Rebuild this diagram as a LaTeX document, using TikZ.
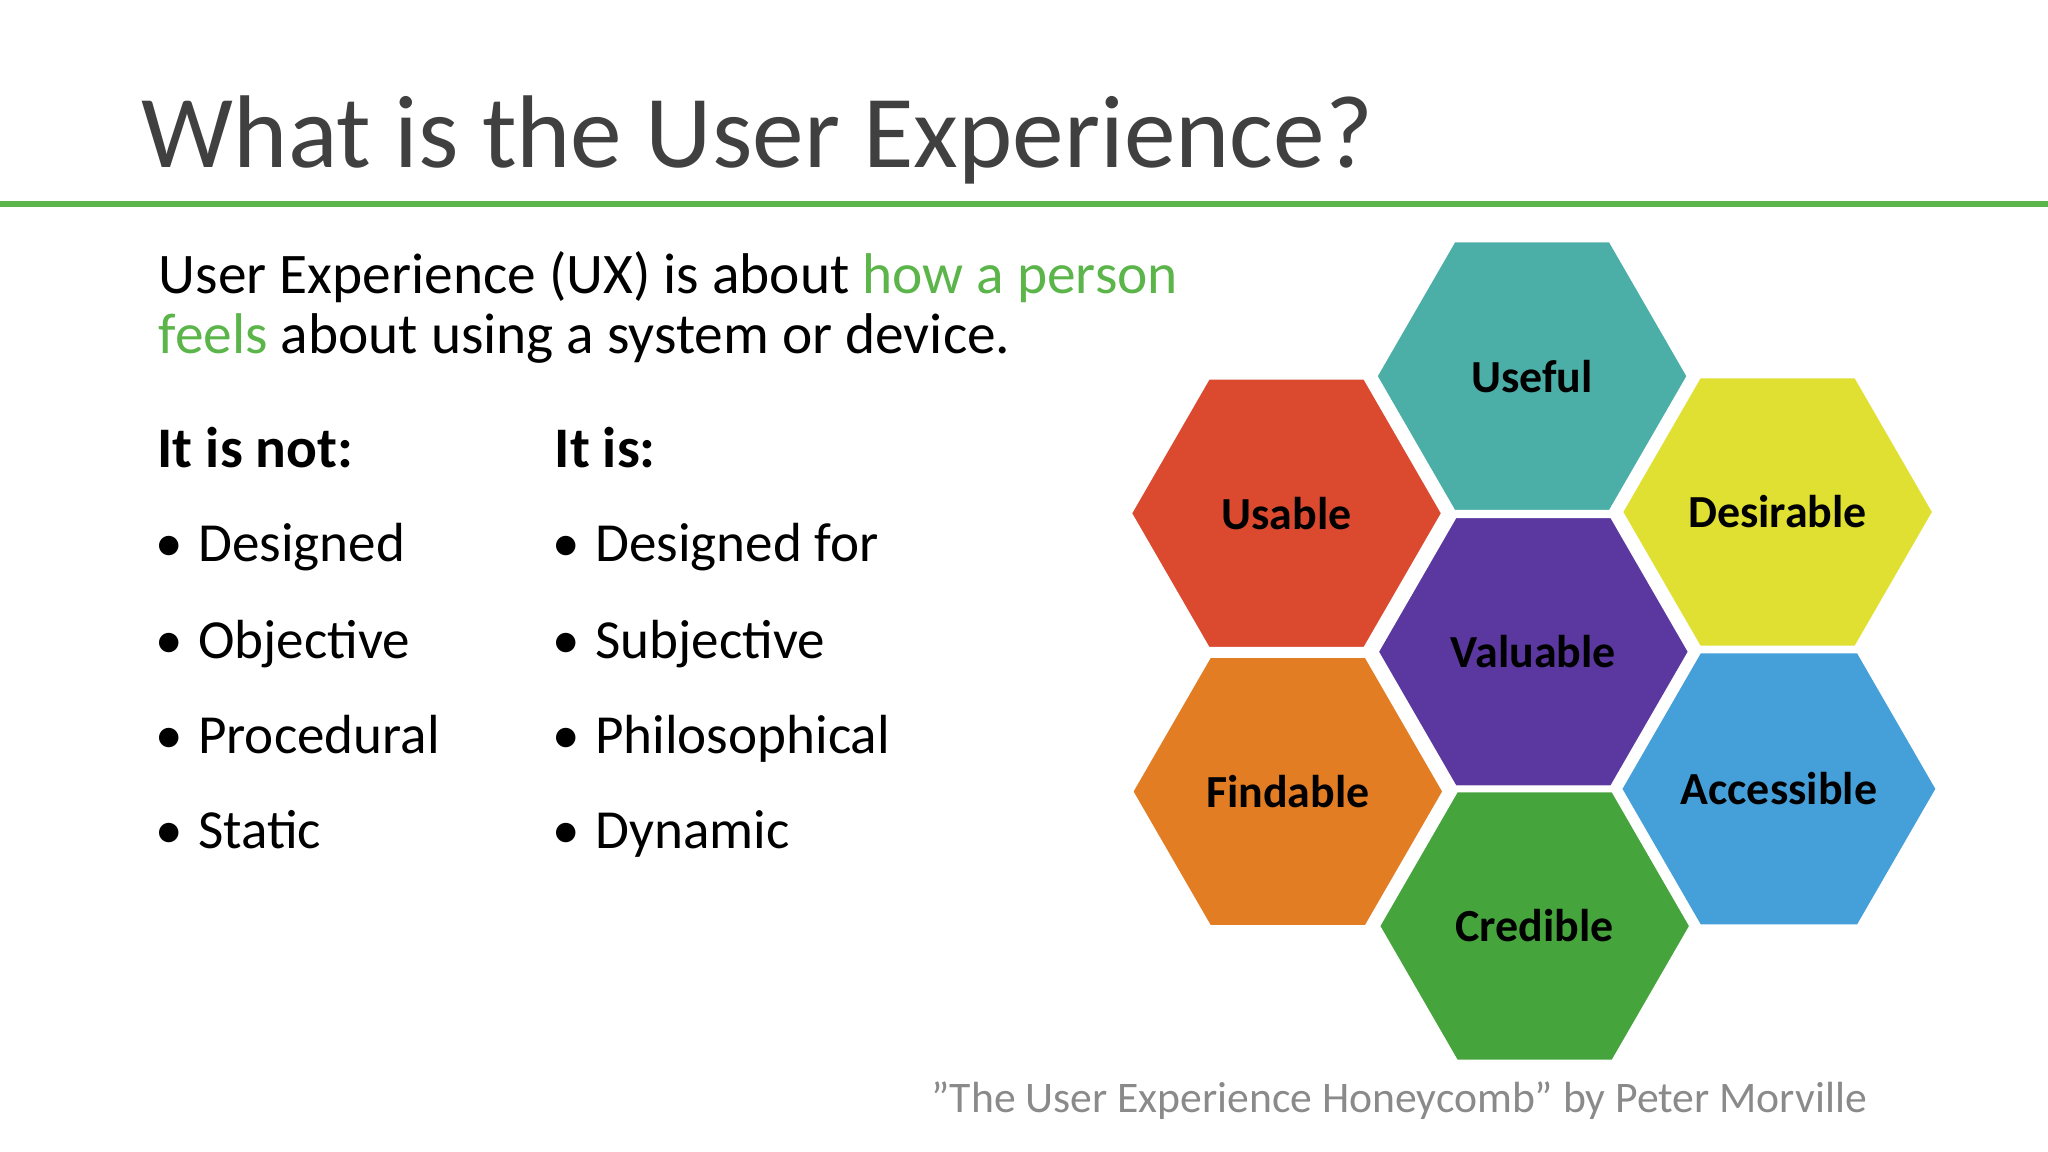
\documentclass[tikz,border=0pt]{standalone}
\usepackage{fontspec}
\setmainfont{Carlito}
\usetikzlibrary{shapes.geometric}
\definecolor{ttl}{HTML}{404040}
\definecolor{grn}{HTML}{5CB54A}
\definecolor{cUseful}{HTML}{4BAFA8}
\definecolor{cUsable}{HTML}{DB4A2F}
\definecolor{cDes}{HTML}{E0E032}
\definecolor{cVal}{HTML}{5B37A0}
\definecolor{cFind}{HTML}{E37D24}
\definecolor{cAcc}{HTML}{45A0DA}
\definecolor{cCred}{HTML}{45A43C}
\definecolor{cap}{HTML}{8A8A8A}
\tikzset{
  hex/.style={regular polygon, regular polygon sides=6, draw=white, line width=0.05cm, inner sep=0pt, minimum size=2.42cm, font=\fontsize{10}{12}\selectfont\bfseries, text=black},
  txt/.style={anchor=base west, inner sep=0pt, font=\fontsize{12.5}{15}\selectfont},
  bul/.style={anchor=base west, inner sep=0pt, font=\fontsize{12}{14}\selectfont}
}
\begin{document}
\begin{tikzpicture}[x=0.01cm,y=-0.01cm]
\fill[white] (0,0) rectangle (1568,882);
\useasboundingbox (0,0) rectangle (1568,882);
\node[anchor=base west, inner sep=0pt, text=ttl, font=\fontsize{22.5}{26}\selectfont] (title) at (108,128) {What is the User Experience?};
\coordinate (l1) at (0,156); \coordinate (l2) at (1568,156);
\draw[grn, line width=0.045cm] (l1) -- (l2);
\node[txt] (p1) at (121,225) {User Experience (UX) is about \textcolor{grn}{how a person}};
\node[txt] (p2) at (121,271) {\textcolor{grn}{feels} about using a system or device.};
\node[txt, font=\fontsize{12.5}{15}\selectfont\bfseries] (h1) at (120,358) {It is not:};
\node[txt, font=\fontsize{12.5}{15}\selectfont\bfseries] (h2) at (424,358) {It is:};
\foreach \y/\a/\b [count=\i] in {430/Designed/Designed for, 504/Objective/Subjective, 577/Procedural/Philosophical, 650/Static/Dynamic}{
  \node[bul] (ba\i) at (118,\y) {\textbullet};
  \node[bul] (ta\i) at (151,\y) {\a};
  \node[bul] (bb\i) at (422,\y) {\textbullet};
  \node[bul] (tb\i) at (455,\y) {\b};
}
\node[hex, fill=cUseful] (useful) at (1173,288) {Useful};
\node[hex, fill=cUsable] (usable) at (985,393) {Usable};
\node[hex, fill=cDes] (des) at (1361,392) {Desirable};
\node[hex, fill=cVal] (val) at (1174,499) {Valuable};
\node[hex, fill=cFind] (find) at (986,606) {Findable};
\node[hex, fill=cAcc] (acc) at (1362,604) {Accessible};
\node[hex, fill=cCred] (cred) at (1175,709) {Credible};
\node[anchor=base east, inner sep=0pt, text=cap, font=\fontsize{9.5}{11}\selectfont] (capt) at (1430,852) {”The User Experience Honeycomb" by Peter Morville};
\end{tikzpicture}
\end{document}
